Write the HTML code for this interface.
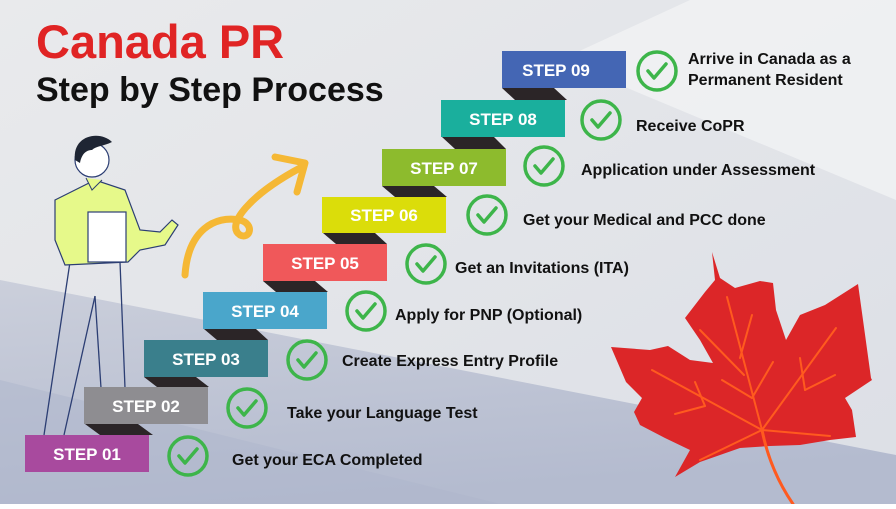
<!DOCTYPE html>
<html><head><meta charset="utf-8"><style>
html,body{margin:0;padding:0;}
body{width:896px;height:504px;overflow:hidden;}
svg text{font-family:"Liberation Sans",Arial,sans-serif;font-weight:bold;}
</style></head><body>
<svg width="896" height="504" viewBox="0 0 896 504" xmlns="http://www.w3.org/2000/svg">
<defs>
<linearGradient id="bg" x1="0" y1="0" x2="1" y2="1">
<stop offset="0" stop-color="#e9eaec"/><stop offset="1" stop-color="#dcdfe6"/></linearGradient>
<linearGradient id="band" x1="0" y1="0" x2="0.3" y2="1">
<stop offset="0" stop-color="#cbcfdb"/><stop offset="1" stop-color="#b4bbcf"/></linearGradient>
</defs>
<rect width="896" height="504" fill="url(#bg)"/>
<polygon points="690,0 896,0 896,200 560,60" fill="#f1f2f4" opacity="0.8"/>
<polygon points="0,280 896,455 896,504 0,504" fill="url(#band)"/>
<polygon points="0,380 500,504 0,504" fill="#aeb6cb" opacity="0.5"/>
<text x="36" y="58" font-size="47" fill="#e02424">Canada PR</text>
<text x="36" y="101" font-size="34" fill="#111">Step by Step Process</text>

<!-- arrow -->
<path d="M185,275 C188,230 215,215 240,220 C255,224 250,240 240,235 C225,225 250,195 300,168" fill="none" stroke="#f5b835" stroke-width="7" stroke-linecap="round"/>
<path d="M275,157 L305,163 L297,192" fill="none" stroke="#f5b835" stroke-width="7" stroke-linecap="round" stroke-linejoin="round"/>

<!-- person -->
<g stroke="#2c3e73" stroke-width="1.3" fill="none">
<line x1="70" y1="262" x2="44" y2="435"/>
<line x1="120" y1="262" x2="125" y2="388"/>
<line x1="95" y1="296" x2="64" y2="435"/>
<line x1="95" y1="296" x2="101" y2="388"/>
</g>
<path d="M55,200 L95,180 L125,190 L140,230 L160,232 L172,220 L178,225 L165,245 L140,250 L128,262 L65,265 L55,240 Z" fill="#e6f98a" stroke="#2c3e73" stroke-width="1.2"/>
<rect x="88" y="212" width="38" height="50" fill="#fff" stroke="#2c3e73" stroke-width="1.2"/>
<circle cx="92" cy="160" r="17" fill="#fff" stroke="#2c3e73" stroke-width="1.2"/>
<path d="M75,160 C72,135 100,130 112,142 C104,146 96,146 92,150 C88,150 82,152 80,163 Z" fill="#1e2533"/>
<path d="M86,178 L92,190 L102,180" fill="#e6f98a" stroke="#2c3e73" stroke-width="1"/>

<!-- shadows -->
<g fill="#2b2527">
<polygon points="85,424 138,424 153,435 100,435"/>
<polygon points="144,377 196,377 209,387 157,387"/>
<polygon points="204,329 256,329 268,340 217,340"/>
<polygon points="263,281 315,281 328,292 276,292"/>
<polygon points="323,233 375,233 387,244 336,244"/>
<polygon points="382,186 434,186 447,197 395,197"/>
<polygon points="442,137 494,137 506,149 455,149"/>
<polygon points="502,88 554,88 567,100 515,100"/>
</g>
<g font-size="17" fill="#fff" text-anchor="middle">
<rect x="25" y="435" width="124" height="37" fill="#a84a9e"/><text x="87" y="460">STEP 01</text>
<rect x="84" y="387" width="124" height="37" fill="#8e8d91"/><text x="146" y="412">STEP 02</text>
<rect x="144" y="340" width="124" height="37" fill="#3a7f8c"/><text x="206" y="365">STEP 03</text>
<rect x="203" y="292" width="124" height="37" fill="#4aa6cb"/><text x="265" y="317">STEP 04</text>
<rect x="263" y="244" width="124" height="37" fill="#f0585a"/><text x="325" y="269">STEP 05</text>
<rect x="322" y="197" width="124" height="36" fill="#dbdd0a"/><text x="384" y="221">STEP 06</text>
<rect x="382" y="149" width="124" height="37" fill="#8dbb2d"/><text x="444" y="174">STEP 07</text>
<rect x="441" y="100" width="124" height="37" fill="#1aaf9d"/><text x="503" y="125">STEP 08</text>
<rect x="502" y="51" width="124" height="37" fill="#4466b4"/><text x="556" y="76">STEP 09</text>
</g>

<!-- checks -->
<g fill="none" stroke="#3db54a" stroke-width="3.5" stroke-linecap="round" stroke-linejoin="round">
<g transform="translate(188,456)"><circle r="19"/><path d="M-9,0 L-3,7 L9,-7"/></g>
<g transform="translate(247,408)"><circle r="19"/><path d="M-9,0 L-3,7 L9,-7"/></g>
<g transform="translate(307,360)"><circle r="19"/><path d="M-9,0 L-3,7 L9,-7"/></g>
<g transform="translate(366,311)"><circle r="19"/><path d="M-9,0 L-3,7 L9,-7"/></g>
<g transform="translate(426,264)"><circle r="19"/><path d="M-9,0 L-3,7 L9,-7"/></g>
<g transform="translate(487,215)"><circle r="19"/><path d="M-9,0 L-3,7 L9,-7"/></g>
<g transform="translate(544,166)"><circle r="19"/><path d="M-9,0 L-3,7 L9,-7"/></g>
<g transform="translate(601,120)"><circle r="19"/><path d="M-9,0 L-3,7 L9,-7"/></g>
<g transform="translate(657,71)"><circle r="19"/><path d="M-9,0 L-3,7 L9,-7"/></g>
</g>
<g font-size="16" fill="#111">
<text x="232" y="465">Get your ECA Completed</text>
<text x="287" y="418">Take your Language Test</text>
<text x="342" y="366">Create Express Entry Profile</text>
<text x="395" y="320">Apply for PNP (Optional)</text>
<text x="455" y="273">Get an Invitations (ITA)</text>
<text x="523" y="225">Get your Medical and PCC done</text>
<text x="581" y="175">Application under Assessment</text>
<text x="636" y="131">Receive CoPR</text>
<text x="688" y="64">Arrive in Canada as a</text>
<text x="688" y="85">Permanent Resident</text>
</g>

<!-- maple leaf -->
<polygon fill="#dc2628" points="712,252 720,278 735,288 760,281 773,283 776,310 786,340 800,315 825,305 858,284 863,320 871,378 872,380 845,398 852,410 856,437 830,440 800,445 770,446 740,448 700,462 675,477 690,450 665,438 640,425 634,412 642,398 626,382 611,347 650,350 668,346 690,360 713,363 700,340 685,318 705,292 715,280"/>
<g fill="none" stroke="#ff5a1f" stroke-width="2" stroke-linecap="round">
<path d="M762,430 C768,460 780,485 793,504" stroke-width="3"/>
<path d="M762,430 L727,297"/>
<path d="M762,430 L836,328"/>
<path d="M762,430 L652,370"/>
<path d="M762,430 L700,460"/>
<path d="M762,430 L830,436"/>
<path d="M740,358 L752,315"/>
<path d="M744,375 L700,330"/>
<path d="M752,398 L773,362"/>
<path d="M752,398 L722,380"/>
<path d="M805,390 L835,375"/>
<path d="M805,390 L800,358"/>
<path d="M705,406 L675,414"/>
<path d="M705,406 L695,382"/>
</g>
</svg>
</body></html>
